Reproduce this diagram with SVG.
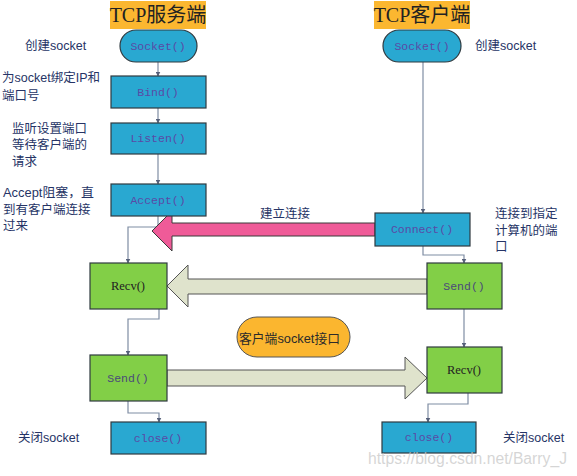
<svg xmlns="http://www.w3.org/2000/svg" width="577" height="476" viewBox="0 0 577 476">
<defs>
<marker id="ah" viewBox="0 0 10 10" refX="9" refY="5" markerWidth="5" markerHeight="5" orient="auto" markerUnits="userSpaceOnUse">
<path d="M0,0 L10,5 L0,10 z" fill="#56607a"/>
</marker>
<style>
.hdr{fill:#fbb730}
.hdrt{font-family:"Liberation Serif","Noto Sans CJK SC",serif;font-size:20px;fill:#222}
.blue{fill:#29a8d1;stroke:#2f3a40;stroke-width:1.2}
.green{fill:#82cf47;stroke:#2f3a40;stroke-width:1.2}
.bt{font-family:"Liberation Mono","Noto Sans CJK SC",monospace;font-size:11.5px;fill:#5a4aa6;text-anchor:middle;dominant-baseline:central}
.gt{font-family:"Liberation Serif","Noto Sans CJK SC",serif;font-size:12.5px;fill:#222;text-anchor:middle;dominant-baseline:central}
.gt2{font-family:"Liberation Mono","Noto Sans CJK SC",monospace;font-size:11.5px;fill:#4a4a7a;text-anchor:middle;dominant-baseline:central}
.lbl{font-family:"Liberation Sans","Noto Sans CJK SC",sans-serif;font-size:12.5px;fill:#263466}
.con{fill:none;stroke:#7f8da3;stroke-width:1.2;marker-end:url(#ah)}
</style>
</defs>
<rect width="577" height="476" fill="#ffffff"/>

<g id="server-header">
<rect class="hdr" x="110" y="1" width="96" height="28"/>
<text class="hdrt" x="158" y="22" text-anchor="middle">TCP服务端</text>
</g>
<g id="client-header">
<rect class="hdr" x="374" y="1" width="96" height="28"/>
<text class="hdrt" x="422" y="22" text-anchor="middle">TCP客户端</text>
</g>

<g id="connectors">
<path class="con" d="M158,62 V76"/>
<path class="con" d="M158,108 V123"/>
<path class="con" d="M158,154 V184"/>
<path class="con" d="M158,216 V227 H128 V263"/>
<path class="con" d="M159,309 V319 H128 V355"/>
<path class="con" d="M128,401 V413 H159 V422"/>
<path class="con" d="M423,62 V213"/>
<path class="con" d="M423,246 V255 H464 V263"/>
<path class="con" d="M464,309 V347"/>
<path class="con" d="M468,393 V404 H428 V422"/>
</g>

<g id="arrow-connect">
<path d="M375,223 H172 V211 L152,231 L172,251 V236 H375 Z" fill="#ef5b98" stroke="#3a3a3a" stroke-width="1"/>
</g>
<g id="arrow-send-client">
<path d="M427,279 H188 V265 L167,286 L188,307 V294 H427 Z" fill="#dfe3cc" stroke="#555" stroke-width="1"/>
</g>
<g id="arrow-send-server">
<path d="M167,370 H405 V357 L427,378 L405,399 V386 H167 Z" fill="#dfe3cc" stroke="#555" stroke-width="1"/>
</g>

<g id="server-socket">
<rect class="blue" x="120" y="30" width="77" height="32" rx="16"/>
<text class="bt" x="158" y="46">Socket()</text>
</g>
<g id="server-bind">
<rect class="blue" x="111" y="76" width="95" height="32"/>
<text class="bt" x="158" y="92">Bind()</text>
</g>
<g id="server-listen">
<rect class="blue" x="111" y="123" width="95" height="31"/>
<text class="bt" x="158" y="138.5">Listen()</text>
</g>
<g id="server-accept">
<rect class="blue" x="111" y="184" width="95" height="32"/>
<text class="bt" x="158" y="200">Accept()</text>
</g>
<g id="server-recv">
<rect class="green" x="90" y="263" width="77" height="46"/>
<text class="gt" x="128" y="286">Recv()</text>
</g>
<g id="server-send">
<rect class="green" x="90" y="355" width="77" height="46"/>
<text class="gt2" x="128" y="378">Send()</text>
</g>
<g id="server-close">
<rect class="blue" x="111" y="422" width="95" height="32"/>
<text class="bt" x="158" y="438">close()</text>
</g>

<g id="client-socket">
<rect class="blue" x="383" y="30" width="78" height="32" rx="16"/>
<text class="bt" x="422" y="46">Socket()</text>
</g>
<g id="client-connect">
<rect class="blue" x="375" y="213" width="95" height="33"/>
<text class="bt" x="422" y="229.5">Connect()</text>
</g>
<g id="client-send">
<rect class="green" x="427" y="263" width="75" height="46"/>
<text class="gt2" x="464" y="286">Send()</text>
</g>
<g id="client-recv">
<rect class="green" x="427" y="347" width="75" height="46"/>
<text class="gt" x="464" y="370">Recv()</text>
</g>
<g id="client-close">
<rect class="blue" x="382" y="422" width="94" height="31"/>
<text class="bt" x="429" y="437.5">close()</text>
</g>

<g id="interface-pill">
<rect x="237" y="317" width="113" height="40" rx="20" fill="#fbb62f" stroke="#555" stroke-width="1"/>
<text x="239" y="338" font-family="'Liberation Sans','Noto Sans CJK SC',sans-serif" font-size="13px" fill="#2b2b2b" textLength="101" lengthAdjust="spacingAndGlyphs" dominant-baseline="central">客户端socket接口</text>
</g>

<g id="labels">
<text class="lbl" x="25" y="50">创建socket</text>
<text class="lbl" x="2" y="82" textLength="98" lengthAdjust="spacingAndGlyphs">为socket绑定IP和</text>
<text class="lbl" x="2" y="100">端口号</text>
<text class="lbl" x="12" y="133">监听设置端口</text>
<text class="lbl" x="12" y="149">等待客户端的</text>
<text class="lbl" x="12" y="166">请求</text>
<text class="lbl" x="3" y="197" textLength="91" lengthAdjust="spacingAndGlyphs">Accept阻塞，直</text>
<text class="lbl" x="3" y="214">到有客户端连接</text>
<text class="lbl" x="3" y="230">过来</text>
<text class="lbl" x="260" y="218">建立连接</text>
<text class="lbl" x="475" y="50">创建socket</text>
<text class="lbl" x="495" y="218">连接到指定</text>
<text class="lbl" x="495" y="235">计算机的端</text>
<text class="lbl" x="495" y="251">口</text>
<text class="lbl" x="18" y="442">关闭socket</text>
<text class="lbl" x="503" y="442">关闭socket</text>
</g>

<text x="368" y="464" font-family="'Liberation Sans',sans-serif" font-size="16px" fill="#c8c8c8" fill-opacity="0.75" textLength="199" lengthAdjust="spacingAndGlyphs">https://blog.csdn.net/Barry_J</text>
</svg>
